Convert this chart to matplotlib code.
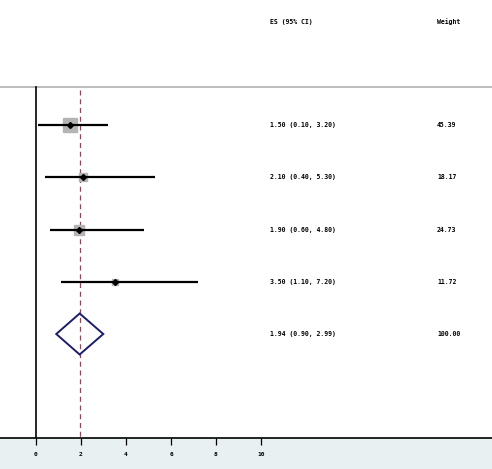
import matplotlib
matplotlib.use("Agg")
import matplotlib.pyplot as plt
from matplotlib.patches import Polygon

es = [1.50, 2.10, 1.90, 3.50]
lo = [0.10, 0.40, 0.60, 1.10]
hi = [3.20, 5.30, 4.80, 7.20]
weights = [45.39, 18.17, 24.73, 11.72]
pooled_es, pooled_lo, pooled_hi = 1.94, 0.90, 2.99
pooled_weight = 100.00
xticks = [0, 2, 4, 6, 8, 10]

W, H = 492, 469
fig = plt.figure(figsize=(W / 100, H / 100), dpi=100)
fig.patch.set_facecolor("#e9f0f2")

ax = fig.add_axes([0, 31 / H, 1, 438 / H])
ax.set_facecolor("white")

px_per_unit = 22.5
x0_px = 36
ax.set_xlim(-x0_px / px_per_unit, (W - x0_px) / px_per_unit)
row_gap = 52.25
row1_px = 125
ytop = 1 - row1_px / row_gap
ybot = 1 + (438 - row1_px) / row_gap
ax.set_ylim(ybot, ytop)

def px_to_row(p):
    return 1 + (p - row1_px) / row_gap

rows = [1, 2, 3, 4]
pooled_row = 5

# separator line
ax.axhline(px_to_row(87), color="#b0b0b0", lw=1.2)
# null line
ax.plot([0, 0], [px_to_row(87), ybot], color="black", lw=1.2)
# overall dashed line
ax.plot([pooled_es, pooled_es], [px_to_row(90), ybot], color="#8a4a5a", lw=0.9,
        dashes=(4, 3))

box_scale = 1.95  # px per sqrt(weight)
for r, e, l, h, w in zip(rows, es, lo, hi, weights):
    ax.plot([l, h], [r, r], color="black", lw=1.6, solid_capstyle="butt", zorder=3)
    side = box_scale * w ** 0.5 * 72 / 100
    ax.plot([e], [r], marker="s", ms=side, color="#b4b4b4", mec="#b4b4b4", zorder=2)
    ax.plot([e], [r], marker="D", ms=3, color="black", zorder=4)

half_h = 20.5 / row_gap
diamond = Polygon([[pooled_lo, pooled_row], [pooled_es, pooled_row - half_h],
                   [pooled_hi, pooled_row], [pooled_es, pooled_row + half_h]],
                  closed=True, fill=False, edgecolor="#1c1c6c", lw=1.4, zorder=3)
ax.add_patch(diamond)

# text columns
x_es = (270 - x0_px) / px_per_unit
x_w = (437 - x0_px) / px_per_unit
tfont = dict(family="DejaVu Sans Mono", fontsize=4.7, color="black", va="center",
             fontweight="bold")
ax.text(x_es, px_to_row(22), "ES (95% CI)", **tfont)
ax.text(x_w, px_to_row(22), "Weight", **tfont)
for r, e, l, h, w in zip(rows, es, lo, hi, weights):
    ax.text(x_es, r, f"{e:.2f} ({l:.2f}, {h:.2f})", **tfont)
    ax.text(x_w, r, f"{w:.2f}", **tfont)
ax.text(x_es, pooled_row, f"{pooled_es:.2f} ({pooled_lo:.2f}, {pooled_hi:.2f})", **tfont)
ax.text(x_w, pooled_row, f"{pooled_weight:.2f}", **tfont)

for s in ["top", "left", "right"]:
    ax.spines[s].set_visible(False)
ax.spines["bottom"].set_linewidth(1.2)
ax.set_yticks([])
ax.set_xticks(xticks)
ax.set_xticklabels([str(t) for t in xticks], fontsize=4.5, family="DejaVu Sans Mono",
                   fontweight="bold")
ax.tick_params(axis="x", direction="out", length=5, width=0.9, pad=5)

fig.savefig("out.png", dpi=100, facecolor=fig.get_facecolor())
